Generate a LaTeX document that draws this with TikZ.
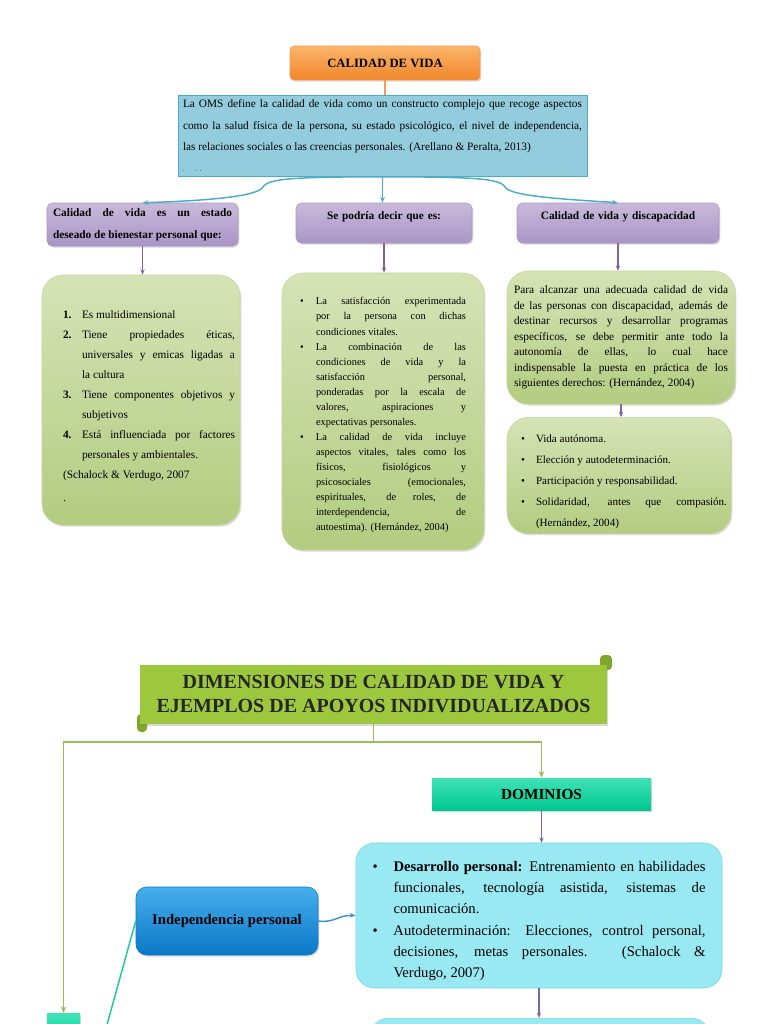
\documentclass[tikz,border=0pt]{standalone}
\usepackage{fontspec}
\setmainfont{Liberation Serif}
\usepackage{tikz}
\usetikzlibrary{arrows.meta, positioning, shadows}

\definecolor{orglt}{HTML}{FAB56B}
\definecolor{orgdk}{HTML}{F0862A}
\definecolor{orgln}{HTML}{F59A50}
\definecolor{omsfill}{HTML}{93CDDD}
\definecolor{omsline}{HTML}{4BACC6}
\definecolor{purlt}{HTML}{C8BADB}
\definecolor{purdk}{HTML}{A995C6}
\definecolor{purarr}{HTML}{8064A2}
\definecolor{grnlt}{HTML}{D5E3B6}
\definecolor{grndk}{HTML}{B3CC80}
\definecolor{bannergrn}{HTML}{9DC83E}
\definecolor{bannerdk}{HTML}{7FA62C}
\definecolor{limeline}{HTML}{9BBB59}
\definecolor{mintlt}{HTML}{3FE2B6}
\definecolor{mintdk}{HTML}{00C88E}
\definecolor{cyanfill}{HTML}{98E9F2}
\definecolor{cyanline}{HTML}{6FD6E4}
\definecolor{bluelt}{HTML}{45AEEB}
\definecolor{bluedk}{HTML}{0B78C8}
\definecolor{tealline}{HTML}{20C99A}

\newcommand{\itm}[2]{\par\hangindent=#1\hangafter=1\noindent\hbox to #1{#2\hfil}\ignorespaces}

\begin{document}
\begin{tikzpicture}[
  x=0.75pt, y=-0.75pt,
  shade/.style={drop shadow={shadow xshift=1pt, shadow yshift=-1.2pt, opacity=0.3}},
  titlebox/.style={rectangle, rounded corners=3pt, draw=orgln, top color=orglt, bottom color=orgdk,
                   minimum width=142.5pt, minimum height=25.5pt, shade,
                   font=\fontsize{9.5}{11}\selectfont\bfseries},
  omsbox/.style={rectangle, draw=omsline, fill=omsfill, inner xsep=3.75pt,
                 text width=299.25pt, minimum height=60.75pt, align=justify,
                 font=\fontsize{8.5}{16}\selectfont},
  purplebox/.style={rectangle, rounded corners=4pt, draw=purdk, top color=purlt, bottom color=purdk,
                    inner xsep=4.5pt, shade, font=\fontsize{8.5}{16.5}\selectfont\bfseries},
  greenbox/.style={rectangle, rounded corners=16pt, draw=grndk!80, top color=grnlt, bottom color=grndk,
                   shade, align=justify},
  bannerbox/.style={rectangle, fill=bannergrn, minimum width=350.25pt, minimum height=44.25pt,
                    shade, align=center, text=black!85, font=\fontsize{15}{18}\selectfont\bfseries},
  mintbox/.style={rectangle, top color=mintlt, bottom color=mintdk, shade},
  cyanbox/.style={rectangle, rounded corners=14pt, draw=cyanline, fill=cyanfill, align=justify},
  bluebox/.style={rectangle, rounded corners=8pt, draw=bluedk, top color=bluelt, bottom color=bluedk,
                  shade, font=\fontsize{11}{13}\selectfont\bfseries},
  arr/.style={-{Stealth[length=4pt, width=3.2pt]}, thick, draw=purarr},
  omsarr/.style={-{Stealth[length=4.5pt, width=3.5pt]}, line width=1.1pt, draw=omsline},
  limearr/.style={-{Stealth[length=5pt, width=4pt]}, line width=1.2pt, draw=limeline},
]
\useasboundingbox (0,0) rectangle (768,1024);
\clip (0,0) rectangle (768,1024);

\node[titlebox] (calidad) at (385,63) {CALIDAD DE VIDA};
\node[omsbox] (oms) at (382.5,136) {La OMS define la calidad de vida como un constructo complejo que recoge aspectos
  \linebreak como la salud física de la persona, su estado psicológico, el nivel de independencia,
  \linebreak las relaciones sociales o las creencias personales. (Arellano \& Peralta, 2013)\par
  \noindent{\fontsize{5}{7}\selectfont .\hspace{8pt}.\hspace{2pt}.}\par};

\node[purplebox, text width=134.25pt, minimum height=32.25pt, align=justify] (estado) at (142.5,224.5)
  {Calidad de vida es un estado \linebreak deseado de bienestar personal que:\par};
\node[purplebox, text width=123pt, minimum height=30pt, align=center] (decir) at (384,223)
  {Se podría decir que es:\\[-5.25pt] \mbox{}};
\node[purplebox, text width=142.5pt, minimum height=30pt, align=center] (discap) at (618,223)
  {Calidad de vida y discapacidad\\[-5.25pt] \mbox{}};

\node[greenbox, inner xsep=3.75pt, text width=141pt, minimum height=187.5pt,
      font=\fontsize{8.5}{15}\selectfont] (rasgos) at (141,400)
  {\leftskip=12pt
   \itm{14.25pt}{\textbf{1.}}Es multidimensional
   \itm{14.25pt}{\textbf{2.}}Tiene propiedades éticas, \linebreak universales y emicas ligadas a \linebreak la cultura
   \itm{14.25pt}{\textbf{3.}}Tiene componentes objetivos y \linebreak subjetivos
   \itm{14.25pt}{\textbf{4.}}Está influenciada por factores \linebreak personales y ambientales.
   \par\noindent(Schalock \& Verdugo, 2007
   \par\vspace{2.5pt}\noindent .\par};

\node[greenbox, inner xsep=13.5pt, text width=124.5pt, minimum height=207.75pt,
      font=\fontsize{7.8}{11.3}\selectfont] (satisf) at (383,411.5)
  {\itm{12pt}{\textbullet}La satisfacción experimentada \linebreak por la persona con dichas \linebreak condiciones vitales.
   \itm{12pt}{\textbullet}La combinación de las \linebreak condiciones de vida y la \linebreak satisfacción personal,
     \linebreak ponderadas por la escala de \linebreak valores, aspiraciones y \linebreak expectativas personales.
   \itm{12pt}{\textbullet}La calidad de vida incluye \linebreak aspectos vitales, tales como los \linebreak físicos, fisiológicos y
     \linebreak psicosociales (emocionales, \linebreak espirituales, de roles, de \linebreak interdependencia, de
     \linebreak autoestima). (Hernández, 2004)\par};

\node[greenbox, inner xsep=5.25pt, text width=160.5pt, minimum height=99.75pt,
      font=\fontsize{8.5}{11.6}\selectfont] (alcanzar) at (621,337.5)
  {Para alcanzar una adecuada calidad de vida \linebreak de las personas con discapacidad, además de
   \linebreak destinar recursos y desarrollar programas \linebreak específicos, se debe permitir ante todo la
   \linebreak autonomía de ellas, lo cual hace \linebreak indispensable la puesta en práctica de los
   \linebreak siguientes derechos: (Hernández, 2004)\par};

\node[greenbox, inner xsep=3pt, text width=162pt, minimum height=86.25pt,
      font=\fontsize{8.3}{15.75}\selectfont] (derechos) at (619,475.5)
  {\leftskip=7.5pt
   \itm{11.25pt}{\textbullet}Vida autónoma.
   \itm{11.25pt}{\textbullet}Elección y autodeterminación.
   \itm{11.25pt}{\textbullet}Participación y responsabilidad.
   \itm{11.25pt}{\textbullet}Solidaridad, antes que compasión. \linebreak (Hernández, 2004)\par};

\draw[orgln, thick] (calidad.south) -- (calidad.south |- oms.north);
\draw[omsarr] (oms.south) .. controls (300,177) and (268,178) .. (263,187)
  .. controls (258,197) and (200,201) .. (estado.north);
\draw[omsarr] (oms.south) -- (oms.south |- decir.north);
\draw[omsarr] (oms.south) .. controls (470,177) and (500,178) .. (505,187)
  .. controls (510,196) and (560,199) .. (discap.north);
\draw[arr] (estado.south) -- (estado.south |- rasgos.north);
\draw[arr] (decir.south) -- (decir.south |- satisf.north);
\draw[arr] (discap.south) -- (discap.south |- alcanzar.north);
\draw[arr] (alcanzar.south) -- (alcanzar.south |- derechos.north);

% dimensiones
\fill[bannerdk, rounded corners=3pt] (600,655) rectangle (612,670);
\fill[bannerdk, rounded corners=3pt] (137,714) rectangle (147,732);
\node[bannerbox] (dimens) at (373.5,694.5)
  {DIMENSIONES DE CALIDAD DE VIDA Y\\ EJEMPLOS DE APOYOS INDIVIDUALIZADOS};
\node[mintbox, minimum width=164.25pt, minimum height=24pt,
      font=\fontsize{11.5}{13}\selectfont\bfseries] (dominios) at (541.5,794) {DOMINIOS};
\node[bluebox, minimum width=136.5pt, minimum height=51pt] (indep) at (227,921) {Independencia personal};
\node[cyanbox, inner xsep=12.4pt, text width=249.75pt, minimum height=108.75pt,
      font=\fontsize{11}{16}\selectfont] (desarrollo) at (539,915.5)
  {\itm{15.75pt}{\textbullet}\textbf{Desarrollo personal:} Entrenamiento en habilidades \linebreak funcionales, tecnología asistida, sistemas de
     \linebreak comunicación.
   \itm{15.75pt}{\textbullet}Autodeterminación: Elecciones, control personal, \linebreak decisiones, metas personales. (Schalock \&
     \linebreak Verdugo, 2007)\par};
\node[cyanbox, minimum width=255pt, minimum height=45pt, anchor=north] (siguiente) at (540,1018) {};
\node[mintbox, minimum width=24.75pt, minimum height=30pt, anchor=north] (lateral) at (63.5,1013) {};
\coordinate (abajo) at (100,1050);

\draw[limearr] (dimens.south) -- ++(0,18) -| (dominios.north);
\draw[limearr] (dimens.south) -- ++(0,18) -| (lateral.north);
\draw[arr] (dominios.south) -- (dominios.south |- desarrollo.north);
\draw[arr] (desarrollo.south) -- (desarrollo.south |- siguiente.north);
\draw[-{Stealth[length=4.5pt, width=3.5pt]}, line width=1.1pt, draw=bluedk!80!white]
  (indep.east) .. controls (335,923) and (338,915) .. (desarrollo.west);
\draw[line width=1.1pt, tealline] (abajo) -- (indep.west);
\end{tikzpicture}
\end{document}
